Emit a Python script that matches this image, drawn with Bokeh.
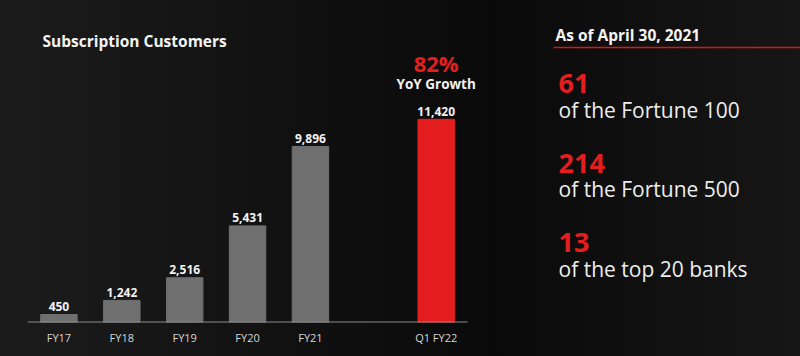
from bokeh.plotting import figure
from bokeh.layouts import row
from bokeh.models import Range1d, FactorRange, ColumnDataSource, Label
from bokeh.core.properties import value
from bokeh.embed import file_html
from bokeh.resources import INLINE

# ---- data ----
categories = ["FY17", "FY18", "FY19", "FY20", "FY21", "Q1 FY22"]
customers = [450, 1242, 2516, 5431, 9896, 11420]
value_labels = ["450", "1,242", "2,516", "5,431", "9,896", "11,420"]
growth_text = "82%"
growth_caption = "YoY Growth"
chart_title = "Subscription Customers"
panel_title = "As of April 30, 2021"
stat_numbers = ["61", "214", "13"]
stat_labels = ["of the Fortune 100", "of the Fortune 500", "of the top 20 banks"]

FONT = "Open Sans"
GREY = "#6f6f6f"
RED = "#e41e1e"

# ---- left chart ----
gap = " "
tail = "  "
main_factors = categories[:-1] + [gap] + categories[-1:]
factors = main_factors + [tail]          # trailing empty slot leaves room for the headline text
colors = [GREY] * (len(categories) - 1) + [RED]
src = ColumnDataSource(dict(cat=categories, val=customers, lab=value_labels, col=colors))

H = 356
BOTTOM = 34
left = figure(width=540, height=H, x_range=FactorRange(factors=factors, range_padding=0),
              y_range=Range1d(0, 18100), output_backend="svg", toolbar_location=None,
              min_border_left=27, min_border_right=10, min_border_top=0, min_border_bottom=BOTTOM)
left.background_fill_alpha = 0
left.border_fill_alpha = 0
left.outline_line_color = None
left.grid.visible = False
left.yaxis.visible = False

left.vbar(x="cat", top="val", width=0.58, fill_color="col", line_color="col", source=src)
left.text(x="cat", y="val", text="lab", source=src, text_align="center", text_baseline="alphabetic",
          y_offset=-8, text_color="#f2f2f2", text_font=value(FONT), text_font_style="bold",
          text_font_size="12px")

# baseline spanning only the real category slots
left.segment(x0=[0], y0=[0], x1=[len(main_factors)], y1=[0], line_color="#8c8c8c", line_width=2)

ax = left.xaxis[0]
ax.axis_line_color = None
ax.major_tick_line_color = None
ax.minor_tick_line_color = None
ax.major_tick_out = 0
ax.major_tick_in = 0
ax.major_label_standoff = 7
ax.major_label_text_color = "#d6d6d6"
ax.major_label_text_font = FONT
ax.major_label_text_font_size = "11px"

frame_h = H - BOTTOM
left.add_layout(Label(x=42 - 27, y=frame_h - 40, x_units="screen", y_units="screen", text=chart_title,
                      text_color="#f4f4f4", text_font=FONT, text_font_style="bold",
                      text_font_size="15.5px", text_baseline="alphabetic"))

last = categories[-1]
last_x = factors.index(last) + 0.5  # synthetic centre of the last category
left.add_layout(Label(x=last_x, y=customers[-1], y_offset=56, text=growth_text, text_align="center",
                      text_baseline="alphabetic", text_color=RED, text_font=FONT,
                      text_font_style="bold", text_font_size="22px"))
left.add_layout(Label(x=last_x, y=customers[-1], y_offset=35, text=growth_caption, text_align="center",
                      text_baseline="alphabetic", text_color="#f2f2f2", text_font=FONT,
                      text_font_style="bold", text_font_size="13.5px"))

# ---- right panel ----
right = figure(width=260, height=H, x_range=Range1d(0, 260), y_range=Range1d(H, 0),
               output_backend="svg", toolbar_location=None, min_border=0)
right.background_fill_alpha = 0
right.border_fill_alpha = 0
right.outline_line_color = None
right.grid.visible = False
right.axis.visible = False

right.text(x=[15], y=[38.5], text=[panel_title], text_color="#f4f4f4", text_font=value(FONT),
           text_font_style="bold", text_font_size="15.5px", text_baseline="alphabetic")
right.segment(x0=[13], y0=[52], x1=[260], y1=[52], line_color="#d01a1a", line_width=1.5)

n = len(stat_numbers)
num_y = [92 + 88 * i for i in range(n)]
lab_y = [121 + 87.7 * i for i in range(n)]
right.text(x=[18] * n, y=num_y, text=stat_numbers, text_color=RED, text_font=value(FONT),
           text_font_style="bold", text_font_size="27px", text_baseline="alphabetic")
right.text(x=[18] * n, y=lab_y, text=stat_labels, text_color="#ededed", text_font=value(FONT),
           text_font_size="21px", text_baseline="alphabetic")

layout = row(left, right, spacing=0)
layout.styles = {"background": "linear-gradient(90deg, #1c1c1c 0%, #0e0e0e 45%, #0a0a0a 62%, #161616 100%)"}

html = file_html(layout, INLINE)
html = html.replace("<body>", '<body style="margin:0;background:#111;">')
open("out.html", "w").write(html)
